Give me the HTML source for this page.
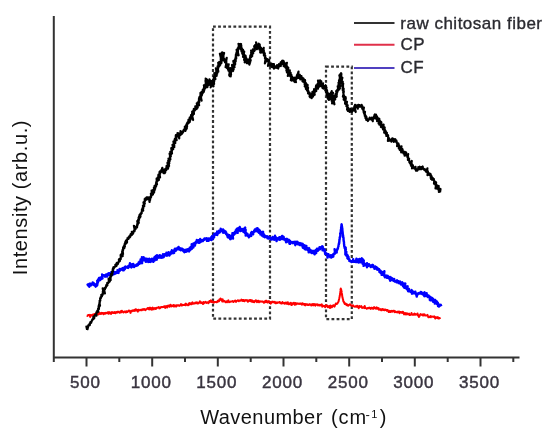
<!DOCTYPE html>
<html><head><meta charset="utf-8"><style>
html,body{margin:0;padding:0;background:#fff;}
body{width:550px;height:437px;overflow:hidden;position:relative;}
svg{position:absolute;left:0;top:0;}
</style></head><body>
<svg width="550" height="437" viewBox="0 0 550 437">
<rect width="550" height="437" fill="#fff"/>
<g stroke="#333" stroke-width="2.2" stroke-dasharray="2.8 2.3" fill="none">
<rect x="213" y="26.7" width="57" height="292"/>
<rect x="326" y="66.7" width="25.8" height="252.5"/>
</g>
<path d="M86.7 315.8L87.2 315.9L87.7 315.5L88.2 315.1L88.7 315.3L89.2 314.9L89.7 315.5L90.2 316.9L90.7 315.0L91.2 314.9L91.7 315.5L92.2 315.3L92.7 315.1L93.1 314.4L93.6 314.9L94.2 315.3L94.6 314.0L95.1 314.5L95.6 313.5L96.1 313.8L96.6 313.4L97.1 314.3L97.6 313.6L98.1 314.5L98.6 314.3L99.1 314.1L99.5 312.6L100.1 313.7L100.6 313.9L101.1 314.0L101.5 312.9L102.0 313.5L102.5 313.1L103.0 313.1L103.6 314.2L104.0 313.0L104.5 313.4L105.1 313.8L105.5 312.9L106.0 313.1L106.5 313.2L107.0 313.1L107.5 312.3L108.0 313.1L108.5 313.8L109.0 312.0L109.5 313.4L110.0 313.0L110.5 312.5L111.0 314.0L111.5 313.2L112.0 312.0L112.5 312.7L113.0 313.0L113.5 312.5L114.0 313.0L114.5 312.1L115.0 312.9L115.5 313.3L116.0 312.0L116.5 312.5L117.0 312.1L117.5 312.4L118.0 311.6L118.5 311.9L119.0 312.1L119.5 312.7L120.0 312.8L120.5 311.3L121.0 311.5L121.5 312.3L121.9 310.7L122.5 311.6L123.0 311.7L123.5 312.5L124.0 312.1L124.4 311.4L124.9 311.4L125.4 311.4L126.0 312.4L126.4 311.2L127.0 311.9L127.5 312.0L127.9 311.2L128.4 311.1L128.9 310.5L129.4 311.1L129.9 310.8L130.5 312.9L130.9 311.4L131.4 310.9L131.9 311.3L132.4 310.6L132.9 310.2L133.4 310.7L133.9 311.0L134.4 309.8L134.9 310.8L135.4 309.5L135.9 309.2L136.4 310.4L136.9 309.8L137.4 310.7L137.9 311.6L138.4 309.7L138.9 309.8L139.4 310.2L139.9 310.4L140.4 309.9L140.9 309.8L141.4 310.3L141.9 310.2L142.3 309.2L142.9 309.7L143.4 309.7L143.8 309.0L144.4 309.8L144.8 309.1L145.4 310.1L145.8 309.6L146.3 309.4L146.8 309.0L147.3 308.6L147.8 308.0L148.3 308.4L148.8 309.3L149.3 307.7L149.8 309.4L150.3 307.8L150.8 309.2L151.3 308.2L151.8 309.8L152.3 308.7L152.7 307.6L153.3 309.2L153.8 309.3L154.3 308.3L154.8 308.1L155.3 308.1L155.8 309.0L156.3 308.7L156.7 307.7L157.2 307.9L157.7 307.4L158.2 307.4L158.7 307.0L159.3 308.4L159.7 307.5L160.2 308.1L160.7 307.5L161.2 307.0L161.7 307.1L162.2 306.9L162.7 307.2L163.2 306.9L163.7 306.9L164.1 306.2L164.7 306.5L165.2 307.9L165.7 306.4L166.1 306.1L166.7 306.9L167.2 307.5L167.6 305.7L168.1 306.4L168.6 306.1L169.1 305.3L169.7 306.8L170.1 306.2L170.6 304.8L171.1 305.7L171.6 306.4L172.1 305.7L172.6 305.9L173.1 305.2L173.6 305.1L174.1 306.6L174.6 305.4L175.1 305.8L175.6 305.6L176.1 306.7L176.6 305.2L177.1 305.8L177.6 305.2L178.1 305.2L178.6 305.3L179.1 305.9L179.6 305.6L180.1 305.3L180.6 304.7L181.0 304.1L181.6 305.5L182.1 305.4L182.5 304.7L183.1 305.1L183.6 305.1L184.1 305.1L184.6 305.1L185.0 304.2L185.6 305.3L186.0 303.6L186.5 304.8L187.0 304.6L187.5 304.7L188.0 305.3L188.5 305.0L189.0 303.3L189.5 303.0L190.0 304.4L190.5 303.3L191.0 303.8L191.5 304.3L192.0 302.8L192.5 302.4L193.0 303.8L193.5 303.6L194.0 303.4L194.5 303.5L195.0 302.9L195.4 302.5L196.0 303.3L196.5 302.7L196.9 302.3L197.5 303.5L198.0 303.2L198.5 303.4L198.9 302.5L199.4 302.7L199.9 301.3L200.4 302.4L201.0 303.1L201.4 302.4L202.0 303.1L202.5 303.0L203.0 304.0L203.4 301.9L204.0 303.3L204.4 302.6L204.9 302.6L205.4 301.8L205.9 302.3L206.4 303.0L206.9 302.5L207.4 302.5L207.9 302.3L208.4 303.1L208.9 302.4L209.4 301.0L209.9 301.9L210.4 301.1L210.9 300.3L211.4 301.9L211.9 302.0L212.4 302.2L212.9 301.4L213.4 301.9L213.9 302.7L214.4 302.1L214.9 302.0L215.4 301.9L215.9 301.9L216.4 302.3L216.9 302.2L217.4 301.9L217.7 300.8L218.3 301.5L218.6 300.5L219.1 301.2L219.3 299.5L219.8 299.9L220.3 299.7L220.5 298.6L221.2 300.2L221.2 300.1L221.7 299.4L221.7 300.6L222.0 300.8L222.7 299.4L222.5 301.6L223.0 301.5L223.5 301.5L224.0 300.8L224.5 301.3L225.0 301.3L225.5 302.1L226.0 301.6L226.5 301.4L227.0 302.3L227.5 301.0L228.0 301.1L228.4 300.3L229.0 302.3L229.5 301.9L230.0 301.9L230.5 301.7L231.0 301.4L231.5 301.4L232.0 301.6L232.4 301.1L233.0 301.2L233.5 302.0L234.0 301.4L234.4 301.0L234.9 300.7L235.4 300.6L236.0 301.9L236.4 301.2L236.9 300.9L237.4 300.7L237.9 300.2L238.4 300.8L238.9 301.3L239.4 300.5L239.9 300.6L240.4 300.5L240.9 300.7L241.4 299.6L241.9 300.4L242.4 300.0L242.9 301.0L243.4 300.0L243.9 300.8L244.4 301.3L244.9 300.2L245.4 300.1L245.9 300.6L246.4 300.5L246.9 300.0L247.4 300.9L247.9 301.8L248.4 300.5L248.9 300.6L249.4 300.1L249.9 300.9L250.4 300.0L250.9 300.2L251.4 301.6L251.9 300.3L252.4 301.6L252.9 301.9L253.4 301.1L253.9 301.3L254.4 302.2L254.9 301.0L255.4 300.8L255.9 300.3L256.4 301.2L256.9 302.1L257.4 301.8L257.9 300.7L258.4 300.8L258.9 302.3L259.4 301.6L259.9 301.3L260.4 301.6L260.9 301.7L261.4 301.4L261.9 301.5L262.4 301.7L262.9 301.6L263.4 302.0L263.9 302.8L264.4 302.1L264.9 301.8L265.4 300.8L265.9 302.1L266.4 300.7L266.9 301.1L267.4 302.5L267.9 302.4L268.4 302.0L268.9 301.1L269.4 301.9L269.9 301.8L270.4 302.6L270.8 303.6L271.4 302.4L271.9 301.8L272.4 301.6L272.9 302.3L273.4 302.3L273.9 301.7L274.4 302.5L274.9 301.8L275.3 303.2L275.8 303.2L276.3 303.3L276.9 302.3L277.3 303.0L277.8 302.6L278.3 302.5L278.8 302.6L279.4 302.0L279.9 302.0L280.3 303.3L280.8 302.8L281.3 303.1L281.8 303.6L282.4 302.0L282.8 302.6L283.3 303.2L283.8 303.3L284.3 302.9L284.8 303.8L285.3 303.3L285.8 302.5L286.3 302.7L286.8 303.8L287.3 303.6L287.8 302.2L288.3 304.2L288.8 303.8L289.3 304.2L289.8 303.2L290.3 303.3L290.8 302.8L291.3 305.1L291.8 303.5L292.3 304.6L292.8 303.2L293.3 303.8L293.8 302.7L294.3 303.5L294.8 304.8L295.3 303.0L295.8 304.5L296.3 304.0L296.8 303.2L297.3 303.6L297.8 303.7L298.3 303.9L298.8 303.7L299.3 303.5L299.8 303.9L300.3 303.5L300.8 303.4L301.3 304.1L301.8 304.7L302.3 303.3L302.8 304.3L303.3 303.9L303.8 303.8L304.3 304.9L304.8 304.1L305.3 305.4L305.8 304.0L306.3 304.8L306.8 304.4L307.3 304.2L307.8 305.0L308.3 304.6L308.8 305.0L309.3 304.7L309.8 304.1L310.3 304.8L310.8 304.9L311.3 305.5L311.8 304.4L312.3 305.0L312.8 304.0L313.3 305.4L313.8 304.4L314.3 304.0L314.8 305.0L315.3 305.7L315.8 304.2L316.3 304.4L316.8 304.7L317.3 304.4L317.8 305.4L318.3 304.7L318.8 304.7L319.3 305.5L319.8 304.7L320.3 305.5L320.8 304.7L321.3 304.7L321.8 304.4L322.2 306.7L322.7 305.4L323.2 305.9L323.7 306.2L324.2 306.0L324.7 306.0L325.1 307.2L325.7 305.5L326.2 305.3L326.7 305.7L327.2 305.6L327.6 307.0L328.1 307.2L328.7 306.2L329.2 306.1L329.6 306.8L330.1 308.0L330.4 305.4L331.1 307.3L331.4 306.1L332.0 307.2L332.4 305.8L332.9 306.1L333.3 305.2L333.8 305.3L334.4 306.6L334.8 306.0L335.1 305.0L335.5 304.5L335.8 303.5L336.3 304.1L336.8 304.0L337.2 303.7L337.5 303.4L337.7 302.8L337.9 302.5L338.1 302.0L338.4 301.8L338.6 301.4L338.7 300.7L338.8 300.1L339.0 299.7L339.1 299.1L339.2 298.6L339.3 298.2L339.4 297.6L339.5 297.4L339.6 296.8L339.7 296.3L339.8 295.8L339.9 295.2L340.0 294.7L340.1 294.3L340.1 293.7L340.2 293.4L340.3 292.8L340.3 292.1L340.4 291.8L340.4 291.1L340.5 290.8L340.6 290.3L340.5 289.5L340.7 289.4L340.8 288.9L340.8 288.4L340.9 288.9L341.0 289.4L341.2 289.8L341.3 290.3L341.4 290.8L341.5 291.4L341.6 291.7L341.6 292.4L341.7 292.9L341.8 293.3L341.9 293.8L341.9 294.4L342.1 294.6L342.1 295.4L342.2 295.8L342.3 296.3L342.3 296.8L342.5 297.3L342.6 297.7L342.7 298.3L342.8 298.8L342.9 299.2L343.1 299.5L343.2 300.3L343.2 300.9L343.4 301.3L343.6 301.7L343.9 301.8L344.0 302.7L344.3 302.9L344.6 303.0L344.7 303.9L345.1 303.3L345.5 303.5L346.0 304.0L346.5 305.2L347.0 304.3L347.5 304.7L347.9 305.7L348.4 305.7L349.0 304.7L349.5 304.7L350.0 304.2L350.5 304.6L350.9 305.4L351.4 305.6L351.9 305.5L352.3 306.2L352.9 305.2L353.3 305.8L353.8 306.4L354.3 306.4L354.8 306.8L355.3 306.5L355.8 306.2L356.3 306.7L356.8 306.0L357.3 305.7L357.7 307.1L358.2 306.8L358.7 308.2L359.3 306.0L359.7 306.9L360.2 306.9L360.7 306.7L361.2 306.0L361.7 307.2L362.2 308.0L362.7 307.7L363.2 307.2L363.7 307.6L364.2 308.1L364.7 306.0L365.2 307.7L365.7 308.1L366.2 308.2L366.7 308.8L367.2 308.5L367.7 308.0L368.2 308.0L368.7 308.3L369.2 307.5L369.7 307.8L370.2 308.3L370.7 309.0L371.2 307.7L371.7 307.8L372.2 307.9L372.7 308.6L373.2 307.7L373.7 308.6L374.2 307.1L374.7 307.6L375.2 307.7L375.6 308.4L376.0 308.8L376.7 307.4L377.1 307.9L377.5 308.8L378.0 308.4L378.6 308.0L378.9 309.7L379.4 309.5L379.9 309.6L380.4 309.1L380.9 310.1L381.4 309.4L381.9 310.2L382.4 309.1L382.9 309.2L383.4 309.9L383.9 309.4L384.4 310.3L384.9 310.1L385.4 309.5L385.9 310.1L386.4 310.0L386.8 310.8L387.4 310.0L387.8 310.2L388.3 311.3L388.7 312.0L389.2 312.0L389.8 310.9L390.3 311.1L390.7 312.0L391.3 311.1L391.8 310.7L392.2 311.4L392.7 311.7L393.2 311.0L393.8 310.7L394.2 310.9L394.7 312.2L395.2 311.4L395.7 311.8L396.2 312.1L396.7 312.3L397.2 311.8L397.7 312.4L398.2 311.6L398.7 311.9L399.2 311.6L399.6 313.3L400.2 312.3L400.7 311.9L401.2 312.2L401.7 312.3L402.1 312.9L402.7 311.7L403.2 312.1L403.6 312.6L404.0 314.4L404.6 313.6L405.1 313.0L405.6 313.6L406.0 314.5L406.6 313.3L407.1 313.3L407.5 314.3L408.0 314.0L408.5 314.2L409.0 313.6L409.4 315.1L410.0 315.1L410.5 314.5L411.0 314.6L411.5 313.0L412.0 314.7L412.5 314.2L413.0 314.6L413.5 314.8L414.0 314.3L414.5 313.5L415.0 314.8L415.5 314.2L416.0 314.5L416.5 314.4L417.0 314.6L417.5 313.5L417.9 315.6L418.5 315.1L418.9 317.0L419.4 316.2L420.0 315.1L420.5 314.1L421.0 314.6L421.5 314.5L422.0 315.0L422.4 315.4L423.0 314.2L423.4 315.6L424.0 314.6L424.5 314.4L424.9 315.5L425.4 315.4L425.9 315.6L426.4 315.4L426.9 315.5L427.5 314.9L427.9 316.0L428.3 317.2L428.8 317.3L429.3 317.0L429.9 316.7L430.4 316.0L430.8 317.3L431.4 316.5L431.8 316.6L432.3 316.5L432.8 316.8L433.3 316.6L433.8 316.9L434.3 316.4L434.8 316.9L435.2 318.6L435.8 317.2L436.3 317.2L436.8 317.8L437.2 318.0L437.8 317.0L438.2 318.5L438.7 318.4L439.2 318.0L439.7 318.0L440.2 319.0" stroke="#ff0000" stroke-width="2.0" fill="none" stroke-linejoin="round"/>
<path d="M86.8 285.6L87.3 285.3L87.7 284.4L88.1 284.5L88.5 284.4L88.9 284.0L89.2 286.7L89.7 284.7L90.1 283.6L90.4 284.2L90.9 285.4L91.3 285.2L91.6 284.3L92.0 283.6L92.4 284.3L92.7 282.4L93.1 282.7L93.6 284.8L94.0 283.4L94.3 284.4L94.6 285.4L95.0 284.9L95.5 284.4L95.7 286.7L96.2 285.3L96.7 284.3L97.1 285.5L97.3 284.8L97.1 283.2L97.5 283.7L97.6 283.1L97.2 280.9L97.9 282.4L98.0 281.9L98.1 281.4L97.9 279.8L98.5 280.7L98.7 280.7L98.9 280.4L98.7 278.8L99.3 280.3L99.1 278.0L99.6 278.8L100.2 280.1L100.2 277.8L100.5 277.8L101.1 279.1L101.3 278.2L101.5 277.2L101.9 277.5L102.5 278.5L102.1 274.5L102.7 275.7L103.1 275.4L103.4 275.1L103.8 275.2L104.2 275.1L104.7 276.1L105.2 276.7L105.4 275.7L105.8 275.8L106.1 274.5L106.6 275.3L107.1 276.7L107.3 275.2L107.6 274.1L108.1 274.5L108.3 273.5L108.7 273.2L109.3 275.1L109.5 273.2L109.9 273.7L110.5 274.8L110.6 273.1L111.0 273.5L111.2 272.1L111.5 272.1L112.3 274.4L112.7 274.7L112.6 271.9L112.9 271.5L113.3 271.3L113.7 271.5L114.0 272.2L114.3 273.4L114.6 273.9L115.2 272.2L115.4 273.5L115.9 272.5L116.3 273.0L116.7 272.1L117.1 272.5L117.4 272.7L117.7 272.4L117.5 270.2L118.5 272.9L118.4 271.3L118.7 271.0L119.0 270.8L119.3 270.6L119.7 270.9L119.6 268.9L120.0 269.0L120.5 270.1L120.9 269.8L121.2 269.2L121.6 269.2L122.0 268.5L122.4 269.1L122.9 270.3L123.1 267.9L123.7 270.4L124.0 269.5L124.3 268.1L124.8 269.2L124.9 266.9L125.3 266.5L125.7 266.8L126.2 267.5L126.6 267.5L126.9 267.2L127.4 267.7L127.7 266.5L128.2 267.9L128.4 265.9L128.9 266.6L129.3 266.8L129.6 265.9L129.9 263.3L130.4 265.9L130.9 266.8L131.3 267.4L131.7 267.2L131.9 265.5L132.1 264.1L132.8 266.4L133.2 266.5L133.3 263.9L134.0 267.0L134.2 265.1L134.7 266.2L135.0 265.6L135.5 266.1L135.7 265.2L136.2 265.8L136.4 264.7L136.9 265.6L137.3 265.4L137.5 263.9L138.0 265.2L138.2 263.8L138.6 263.5L138.8 262.3L139.2 262.8L139.7 263.7L139.7 261.4L140.4 263.1L140.3 261.1L140.9 262.2L140.6 259.4L141.4 261.2L142.1 263.2L141.8 260.0L142.3 260.6L141.9 257.3L142.9 260.6L142.9 259.0L143.5 260.2L143.6 257.3L144.0 259.9L144.5 259.1L144.8 260.2L145.3 258.6L145.7 259.0L145.8 261.9L146.4 258.9L146.9 258.8L147.2 259.7L147.6 259.0L147.9 261.4L148.2 262.0L148.8 259.7L149.2 258.7L149.4 261.7L149.8 261.8L150.2 261.6L150.6 262.0L150.9 259.9L151.3 260.4L151.5 259.0L151.8 258.8L152.5 260.9L152.6 259.1L153.4 261.8L153.4 259.4L153.6 258.5L154.2 259.7L154.7 260.5L154.8 258.9L154.7 256.9L155.3 258.2L155.8 258.9L155.6 256.7L155.8 256.1L156.8 259.7L156.6 256.6L157.0 255.3L157.4 256.1L157.8 255.7L158.2 256.8L158.6 256.7L158.9 257.7L159.3 257.3L159.8 255.1L160.2 257.1L160.5 257.6L160.9 257.2L161.3 257.8L161.7 256.2L162.0 255.7L162.6 257.5L162.8 255.3L163.0 254.1L163.7 257.2L163.9 255.3L164.4 255.6L164.6 254.3L165.0 254.3L165.4 254.3L165.9 255.0L166.3 255.5L166.4 252.7L167.1 255.7L167.2 253.6L167.5 253.5L168.2 255.0L168.4 254.0L168.5 252.3L169.4 255.5L169.3 252.6L169.8 253.5L170.1 253.2L170.6 254.2L170.7 252.1L171.2 253.4L171.3 251.4L171.9 253.0L171.9 250.3L172.4 251.1L173.1 253.2L173.2 251.4L173.5 251.0L174.1 252.9L174.2 250.8L174.4 249.4L174.9 250.8L175.0 248.7L175.7 250.8L176.0 250.6L176.1 248.7L176.5 248.4L176.9 249.0L177.2 248.6L177.7 247.7L178.0 249.4L178.6 246.9L178.8 248.6L179.2 248.8L179.6 249.0L179.9 249.7L180.4 248.3L180.6 250.2L181.1 249.6L181.5 249.2L181.9 248.6L182.3 248.9L182.6 250.6L183.1 249.3L183.4 250.4L183.7 251.5L184.1 251.6L184.4 252.2L185.0 250.5L185.3 249.8L185.8 251.8L186.1 250.9L186.5 251.5L186.7 250.2L187.2 251.2L187.3 249.1L187.9 250.3L188.2 249.9L188.7 250.8L189.2 251.4L189.1 249.0L189.6 249.5L189.7 247.8L190.5 249.8L190.4 247.7L190.9 248.5L190.9 247.1L191.2 246.7L192.0 248.7L191.7 246.1L191.7 244.3L192.2 245.1L192.6 245.2L193.4 247.4L193.2 245.1L193.7 245.6L193.5 243.4L194.1 244.4L194.4 244.5L195.0 245.6L194.9 242.7L195.4 243.8L195.7 243.3L195.9 241.8L196.4 242.6L196.7 242.2L196.8 240.0L197.5 242.3L197.9 242.5L198.2 241.3L198.4 240.3L199.1 242.9L199.3 241.5L199.8 242.1L200.2 242.3L200.2 239.0L200.8 240.7L201.1 240.3L201.6 241.5L201.9 240.2L202.3 240.2L202.8 241.1L203.1 240.0L203.4 239.6L203.8 239.4L204.2 239.9L204.5 238.5L204.9 238.8L205.3 239.1L205.7 238.5L206.1 238.9L206.5 238.3L207.0 240.9L207.4 240.1L207.7 239.2L208.1 238.6L208.6 240.8L208.9 238.9L209.3 238.4L209.7 238.7L210.1 238.6L210.5 239.7L210.8 238.2L211.5 240.1L211.4 236.9L212.0 238.3L212.0 236.3L212.8 238.9L212.8 236.6L213.2 236.6L213.7 237.4L214.1 237.4L213.8 234.8L214.2 235.2L214.2 233.9L214.8 235.1L215.0 234.5L215.2 234.0L215.5 233.4L215.9 233.5L216.5 234.7L216.8 234.1L217.3 235.0L217.2 231.4L217.8 233.0L218.1 232.6L218.6 233.2L218.6 231.5L219.0 232.0L219.1 230.8L219.8 232.3L219.9 231.4L220.2 230.9L220.6 231.1L220.7 230.2L220.7 228.7L221.5 230.5L221.7 229.9L221.9 229.5L222.0 230.9L222.2 231.4L223.0 229.4L223.2 230.0L223.0 232.6L223.3 232.7L224.1 230.9L224.4 230.7L224.6 231.5L224.9 232.0L225.4 231.2L225.3 233.1L225.9 232.0L226.1 232.4L226.1 234.0L226.6 233.5L226.8 234.3L227.0 235.3L227.2 235.7L227.8 234.8L227.7 237.1L228.5 234.8L228.3 237.6L228.8 236.8L229.5 235.3L229.6 236.6L229.8 237.6L230.1 237.6L230.2 239.2L230.8 239.0L231.0 236.9L231.3 237.1L231.3 235.6L231.9 236.8L232.2 236.4L233.0 238.6L232.7 235.7L232.4 233.2L233.0 234.4L233.5 234.8L233.4 233.2L234.1 234.6L234.1 233.4L234.6 233.8L234.7 233.0L234.8 232.0L235.4 233.4L235.4 231.7L235.7 231.5L235.8 230.3L236.2 230.6L236.8 231.8L236.6 229.2L237.7 232.8L237.1 228.7L237.7 229.6L238.1 229.9L238.1 228.3L238.9 230.4L239.1 229.9L239.2 228.9L239.7 227.0L240.0 227.9L240.1 230.1L240.4 231.0L241.0 229.7L241.2 230.8L241.8 229.1L242.1 229.7L242.5 230.0L242.8 230.6L243.4 228.8L243.4 231.4L243.5 232.1L244.7 228.5L245.2 227.6L244.5 232.0L245.0 231.3L245.7 229.9L245.2 233.4L245.6 233.1L246.0 232.7L245.7 235.6L246.4 234.0L246.9 233.4L246.9 234.5L247.4 233.7L247.6 234.3L247.6 235.7L248.0 235.7L248.3 235.4L248.9 237.3L249.1 236.3L249.4 236.0L249.7 235.5L250.0 235.2L250.5 236.0L250.6 234.3L251.2 235.9L251.1 232.9L251.5 233.4L251.7 232.0L252.2 232.9L252.7 233.5L253.2 234.2L253.1 231.9L253.6 232.3L253.8 231.7L254.1 231.1L254.3 230.4L254.9 231.4L254.9 229.4L255.5 231.0L255.8 230.6L256.0 229.7L256.3 229.1L256.5 228.5L257.3 231.5L257.5 228.3L257.4 231.4L257.9 230.7L258.4 230.0L258.9 229.5L258.8 231.9L258.9 232.8L259.8 230.4L259.9 231.3L260.0 232.9L260.4 232.5L260.4 234.4L261.2 232.1L261.3 233.4L262.0 231.9L261.7 235.5L262.5 232.9L263.1 231.7L263.0 234.0L263.3 234.2L263.3 236.5L264.0 234.5L264.3 235.1L264.5 236.0L264.6 237.2L265.2 235.8L265.3 237.1L265.7 236.9L266.2 236.3L266.5 236.9L266.9 237.0L267.3 236.2L267.5 238.4L268.1 236.7L268.3 238.6L268.7 238.5L269.1 237.6L269.6 237.1L269.9 237.7L270.2 238.6L270.6 239.0L271.0 238.6L271.3 239.5L271.8 238.0L272.2 238.8L272.6 237.0L273.0 239.4L273.4 238.8L273.8 238.2L274.2 239.8L274.6 239.3L275.0 235.8L275.4 238.6L275.8 237.1L276.2 239.7L276.6 241.1L277.0 238.1L277.4 238.7L277.8 238.3L278.2 238.8L278.6 239.0L279.0 239.6L279.3 237.3L279.8 239.8L280.1 237.2L280.6 238.3L281.0 239.2L281.4 238.6L281.7 236.9L282.0 236.0L282.5 236.0L282.9 237.8L283.0 239.2L283.7 237.0L283.7 239.0L284.0 239.4L284.4 239.6L284.7 239.7L285.2 239.0L285.3 240.2L285.6 240.9L286.0 240.8L286.1 242.3L287.0 238.8L286.9 242.1L287.5 240.8L287.8 240.9L288.3 240.4L288.8 239.7L288.9 241.4L289.3 241.2L289.4 243.7L290.2 240.8L290.1 243.9L290.6 242.9L291.1 242.6L291.5 242.3L291.8 242.4L292.2 242.1L292.5 242.8L292.9 243.3L293.3 243.1L293.7 241.9L294.1 243.0L294.5 242.4L295.0 241.7L295.3 245.2L295.7 244.0L296.1 243.1L296.5 241.8L296.9 242.0L297.4 241.7L297.7 244.2L298.1 242.7L298.5 243.5L298.9 242.9L299.3 243.6L299.5 245.0L300.1 243.1L300.4 243.7L300.8 243.4L300.9 245.3L301.6 243.6L301.9 243.7L302.3 243.7L302.7 243.9L302.7 245.9L302.8 247.7L303.6 244.9L303.7 247.0L304.1 246.5L304.7 245.4L304.4 248.7L305.1 246.8L305.5 246.6L305.3 249.5L306.4 245.9L306.2 248.5L306.5 248.7L307.0 248.0L307.2 249.0L307.3 250.0L307.8 249.5L308.0 250.1L308.3 250.6L309.1 248.1L308.7 252.4L309.1 252.2L309.6 251.8L309.9 252.1L310.6 249.9L310.7 251.4L311.2 250.9L311.5 251.3L311.6 253.1L312.2 251.5L312.5 252.4L313.1 250.8L313.2 252.8L313.5 253.2L313.7 252.3L313.9 252.0L314.7 254.3L314.4 251.0L314.7 250.8L315.0 250.8L315.7 252.5L316.2 253.1L316.1 251.1L316.2 249.8L316.5 249.8L317.1 251.0L317.0 248.7L317.8 250.8L318.0 250.5L318.0 248.8L318.4 249.2L318.8 249.2L319.2 249.6L319.5 247.3L320.0 249.4L320.3 247.8L320.7 247.3L321.1 248.1L321.5 247.7L321.8 246.9L322.2 246.2L322.8 246.8L322.5 249.5L322.5 250.3L323.1 249.4L323.1 250.3L323.7 248.9L323.8 249.7L323.9 250.4L324.4 249.4L324.6 249.9L324.5 251.3L324.8 251.3L325.1 250.9L324.9 252.7L325.3 252.4L325.1 254.0L325.6 253.3L326.0 253.3L326.2 254.0L326.5 254.0L326.9 253.8L327.1 254.3L327.2 255.8L327.5 256.0L327.5 257.6L328.5 254.2L328.5 255.8L328.8 256.0L329.2 255.4L329.4 256.3L329.7 256.1L330.2 257.3L330.6 257.3L330.9 255.2L331.4 257.6L331.8 257.1L332.1 255.5L332.6 256.8L332.7 255.0L333.3 256.6L333.3 254.9L333.4 254.0L333.8 254.2L334.0 253.5L334.4 254.1L334.7 253.8L334.9 253.4L335.0 252.5L334.6 249.1L335.7 252.5L335.5 250.2L336.3 252.1L336.7 252.6L336.7 251.4L336.7 250.4L337.0 250.3L337.2 249.9L337.2 249.2L337.5 249.3L337.6 248.8L337.8 248.8L337.9 248.2L338.0 248.0L338.0 247.4L338.1 247.1L338.2 246.6L338.4 246.4L338.5 246.0L338.5 245.5L338.6 245.0L338.7 244.6L338.9 244.6L338.8 243.9L338.9 243.5L339.1 243.4L339.2 243.3L339.1 242.5L339.2 241.9L339.4 242.0L339.3 241.2L339.4 240.9L339.4 240.3L339.4 239.7L339.5 239.3L339.7 239.3L339.7 238.9L339.8 238.4L339.7 237.4L339.8 237.3L340.0 237.2L340.0 236.5L340.2 236.6L340.3 236.3L340.4 236.2L340.3 235.4L340.3 234.7L340.3 234.3L340.2 233.4L340.5 233.5L340.5 233.2L340.6 233.1L340.7 232.6L340.7 232.2L340.8 231.7L340.8 231.4L340.9 231.2L340.8 230.3L340.9 230.0L340.9 229.4L341.1 229.6L341.2 229.2L341.2 228.6L341.1 227.9L341.2 227.7L341.3 227.3L341.3 226.9L341.3 226.5L341.4 226.2L341.4 225.6L341.5 225.5L341.5 225.0L341.5 224.5L341.6 224.3L341.7 224.6L341.7 225.2L341.8 225.4L341.8 225.9L341.9 226.2L342.0 226.4L341.9 227.2L342.1 227.2L342.0 228.0L342.1 228.3L342.3 228.3L342.3 228.8L342.3 229.3L342.4 229.7L342.4 229.9L342.4 230.8L342.5 231.0L342.5 231.5L342.6 231.7L342.6 232.3L342.7 232.5L342.7 233.0L342.7 233.5L342.8 233.8L342.9 234.1L342.9 234.4L342.9 235.0L343.0 235.5L343.1 235.7L343.2 236.0L343.1 236.7L343.1 237.5L343.4 237.1L343.3 237.8L343.4 238.2L343.6 238.0L343.5 239.0L343.6 239.2L343.5 240.0L343.6 240.1L343.7 240.4L343.7 240.9L343.8 241.4L343.9 241.6L343.9 242.1L344.0 242.3L344.0 242.9L344.0 243.5L344.0 244.1L344.1 244.3L344.2 244.6L344.2 245.1L344.2 245.5L344.2 246.0L344.3 246.3L344.4 246.5L344.5 246.9L344.6 247.3L344.6 247.7L344.7 248.1L344.9 248.3L345.1 248.4L345.2 248.6L345.7 247.6L345.2 250.1L345.3 250.4L345.9 249.1L345.3 251.9L345.4 252.4L345.7 252.0L345.3 254.0L345.4 254.6L346.4 251.9L345.8 254.5L346.1 254.3L346.2 254.7L346.2 255.6L346.8 254.3L346.9 255.0L347.1 254.9L347.2 255.4L347.2 256.4L347.7 255.4L347.7 256.2L347.4 258.2L347.7 257.9L347.8 258.7L348.5 256.8L348.5 258.2L348.8 258.7L348.9 259.6L349.4 259.2L349.3 261.0L349.8 260.3L350.1 260.7L350.4 260.8L350.8 261.5L351.2 261.3L351.6 261.9L352.0 261.3L352.4 261.0L352.8 261.6L353.2 259.1L353.6 261.8L354.0 261.7L354.4 261.2L354.8 261.7L355.2 260.9L355.7 262.0L356.0 260.7L356.4 258.6L356.9 262.0L357.2 260.7L357.6 259.4L358.0 260.3L358.4 259.6L358.8 262.6L359.2 261.0L359.6 258.9L360.0 261.0L360.4 260.1L360.8 262.4L361.2 259.4L361.8 258.3L361.9 260.7L362.3 260.6L362.5 260.9L363.2 259.5L362.8 262.4L362.7 263.9L363.8 260.7L363.3 264.1L364.0 262.7L363.5 265.9L364.2 264.3L364.6 264.0L364.9 265.4L365.3 265.0L365.8 264.0L366.0 265.4L366.5 264.4L367.0 263.2L367.0 267.2L367.6 265.0L368.0 264.8L368.3 265.9L368.9 264.2L369.2 264.5L369.5 265.4L369.9 265.4L370.3 266.0L370.7 267.1L371.1 265.5L371.5 266.5L371.9 266.6L372.3 264.9L372.7 266.2L373.1 265.1L373.3 267.2L373.7 266.8L374.1 266.6L374.4 267.0L374.5 268.9L375.3 266.4L375.4 268.1L375.9 267.5L376.3 267.0L376.4 268.9L376.8 268.9L377.3 267.8L377.3 269.8L377.9 268.6L378.2 268.8L378.4 269.5L378.9 268.9L379.2 269.5L379.4 270.0L379.4 271.9L379.7 272.2L380.4 270.6L380.3 272.8L381.0 271.4L381.2 272.0L381.4 272.8L381.8 272.5L381.6 274.9L382.3 273.0L382.9 271.9L382.7 274.7L383.3 273.2L383.6 273.6L384.4 271.2L383.9 275.5L384.2 275.6L384.5 275.9L384.7 276.3L384.9 277.3L385.6 275.8L385.7 277.0L386.3 275.5L386.6 276.2L386.7 277.8L387.2 277.3L387.8 275.8L387.8 277.8L388.3 277.4L388.7 277.0L388.8 278.5L389.3 277.9L389.8 276.9L390.0 277.6L390.1 280.7L390.8 277.5L391.0 279.4L391.3 279.9L391.7 280.0L392.3 278.3L392.6 279.3L392.9 279.9L393.2 280.7L393.7 279.4L394.2 279.0L394.4 280.2L394.7 281.5L395.1 281.0L395.4 281.4L395.8 281.4L396.1 281.9L396.5 282.2L397.1 280.3L397.3 281.8L397.7 281.7L398.1 281.0L398.3 282.5L398.6 283.1L399.1 282.2L399.4 283.2L399.9 281.5L400.2 283.0L400.5 283.6L400.9 283.6L401.2 284.5L401.8 282.4L402.2 282.2L402.4 284.1L402.8 284.4L403.0 286.2L403.5 284.7L404.0 283.5L403.9 287.5L404.8 283.8L405.3 283.4L404.6 287.9L405.4 285.9L405.5 286.6L405.8 286.8L405.8 288.3L406.4 287.1L406.5 288.3L407.2 286.4L407.6 286.3L407.2 289.4L407.4 289.8L407.8 289.5L408.2 289.2L408.1 291.2L409.0 288.9L408.7 291.4L409.2 290.8L409.6 290.8L410.0 290.9L410.3 291.7L410.7 291.3L411.0 291.8L411.7 290.0L411.8 291.9L411.9 293.7L412.6 291.2L412.9 291.8L413.2 293.0L413.5 293.2L414.1 291.9L414.4 292.3L414.7 293.2L415.3 291.7L415.5 292.9L415.9 293.2L416.1 294.9L416.6 294.2L416.7 296.6L417.3 294.4L417.7 294.5L418.2 293.3L418.6 293.3L419.0 293.0L419.3 293.5L419.7 292.9L420.1 293.2L420.5 293.6L420.8 292.0L421.2 292.3L421.6 292.3L422.1 294.0L422.5 293.6L422.9 294.5L423.3 294.4L423.7 293.0L423.9 294.2L424.6 292.3L424.3 296.2L424.8 295.4L425.1 296.1L425.9 293.5L425.9 295.2L426.6 293.2L426.8 294.5L426.9 296.3L427.3 295.8L427.7 295.5L427.8 297.1L428.5 295.4L428.6 296.9L429.1 296.4L429.4 296.3L429.5 297.9L430.1 296.7L429.8 299.8L430.6 297.6L430.4 300.4L431.3 297.6L431.3 299.5L432.0 298.0L432.3 298.1L432.3 299.9L432.5 300.6L433.2 298.9L433.0 301.7L433.7 299.9L433.9 301.1L434.1 301.6L434.4 302.1L435.2 299.9L434.8 303.6L435.3 302.8L435.8 302.0L436.3 301.7L436.7 301.3L437.0 301.9L436.9 304.0L437.4 303.4L437.8 302.8L438.0 303.7L438.0 306.0L438.6 304.4L439.0 304.4L438.9 306.6L439.4 305.9L439.8 305.8L440.2 305.4L440.7 304.7L441.0 305.3L441.2 306.2" stroke="#0000ff" stroke-width="2.4" fill="none" stroke-linejoin="round"/>
<path d="M87.1 329.7L86.4 326.6L87.3 329.2L87.5 329.2L87.6 328.7L87.7 328.3L87.7 327.8L87.9 327.8L88.0 327.2L88.1 326.8L88.2 326.5L88.2 325.7L88.4 325.1L88.8 325.5L89.0 325.2L89.2 324.5L89.4 324.1L89.9 325.0L89.8 323.3L90.1 323.2L90.4 323.1L90.4 322.1L90.8 322.4L91.2 322.8L91.3 322.1L91.5 321.6L91.7 321.2L91.8 320.7L92.1 320.7L92.2 319.9L92.4 319.4L92.7 319.3L93.0 319.4L93.1 318.7L93.4 318.6L93.3 316.9L93.9 318.1L94.2 318.4L94.3 317.5L94.3 316.4L94.5 315.8L94.8 316.0L94.9 315.0L95.3 315.5L95.3 314.6L95.7 315.0L96.0 314.8L96.5 315.6L96.3 313.6L96.4 312.8L96.5 312.1L96.8 312.1L97.1 312.0L97.4 312.3L97.3 310.6L97.8 311.6L98.2 311.8L98.1 310.7L98.2 310.3L98.2 309.6L98.1 308.6L98.5 309.1L98.5 308.6L98.7 308.4L99.0 309.0L98.6 306.7L98.9 307.1L99.1 307.3L98.8 305.4L98.9 305.1L99.1 305.1L99.1 304.5L99.4 304.9L99.3 303.9L100.0 305.8L99.7 304.1L99.6 303.3L99.5 302.3L99.7 302.5L99.8 302.2L99.6 300.8L99.9 301.1L100.0 300.9L100.0 300.3L100.3 300.6L100.3 300.0L100.1 298.5L100.4 298.7L100.4 297.8L100.8 298.2L100.7 297.0L101.1 297.6L101.2 297.0L101.4 296.9L101.4 295.9L101.3 294.8L102.0 296.3L101.8 294.8L102.2 295.3L102.2 294.4L102.4 294.2L102.8 294.5L102.7 293.3L103.0 293.5L102.8 291.5L103.3 292.5L103.3 291.5L102.7 288.3L103.6 290.9L103.9 290.7L104.9 293.5L103.9 288.7L104.4 289.5L104.5 288.7L104.9 289.4L104.9 288.2L105.2 288.3L105.3 287.5L105.7 287.8L105.9 287.6L105.9 286.5L106.2 286.4L106.2 285.2L106.7 285.9L107.0 285.8L107.0 284.7L107.4 285.3L107.2 283.1L107.4 282.9L107.7 282.8L108.1 283.0L108.3 283.0L108.4 282.5L108.6 282.2L108.8 282.3L108.8 281.2L108.8 280.3L108.6 278.8L109.6 281.6L109.8 281.5L109.5 279.5L109.9 280.0L109.9 279.1L109.8 277.9L110.7 280.1L110.4 278.2L110.6 278.1L110.4 276.4L110.8 277.0L110.8 276.4L111.1 276.5L111.3 276.3L111.1 274.9L111.1 273.8L111.6 274.6L111.9 275.1L111.9 274.0L111.9 273.3L112.4 274.3L111.9 271.8L112.4 272.6L112.3 271.3L112.5 271.3L112.7 271.0L113.0 271.5L112.7 269.6L112.9 269.4L112.9 268.4L113.4 269.3L113.3 268.3L113.6 268.5L113.5 267.2L113.7 267.3L114.1 267.8L114.2 266.8L114.7 267.0L115.0 266.7L115.2 265.9L115.3 264.9L115.9 266.3L116.1 265.5L116.6 265.8L116.4 263.5L116.7 263.4L116.8 262.8L117.2 263.3L117.8 264.2L117.9 263.5L118.0 262.8L118.2 262.6L118.6 262.6L118.6 261.6L118.9 261.7L119.1 261.2L118.9 259.3L119.4 260.2L119.9 261.0L119.8 259.5L120.0 259.3L120.1 258.6L120.3 258.3L120.8 259.1L120.7 257.8L120.8 256.9L120.6 255.1L121.2 256.5L121.1 255.2L121.3 254.9L122.0 256.4L122.1 255.9L121.6 253.7L122.3 255.2L122.7 256.1L122.1 253.3L122.5 254.0L122.1 251.9L122.2 251.8L123.1 253.9L122.4 251.1L122.9 252.1L122.5 250.2L122.6 249.9L122.7 249.7L123.1 250.1L123.0 249.3L123.3 249.7L123.1 248.3L123.1 247.5L123.4 247.6L123.7 247.7L123.6 246.6L124.0 247.1L124.5 247.8L124.2 245.7L124.4 245.8L124.9 246.4L124.6 244.6L124.7 244.1L124.8 243.5L125.3 244.2L125.5 243.9L125.2 242.1L125.7 242.9L126.1 243.4L126.2 242.7L125.9 240.7L126.3 241.4L127.0 242.6L127.0 241.3L127.0 240.2L127.2 239.6L127.5 239.4L127.5 238.1L128.0 239.1L128.1 238.4L128.6 238.8L128.5 237.4L128.9 237.5L129.1 237.0L129.2 236.4L129.8 237.4L129.9 236.2L130.3 236.6L130.3 235.1L130.7 235.7L130.7 234.1L131.2 234.7L131.4 234.4L131.9 234.9L132.0 234.3L131.8 231.8L132.7 234.1L132.8 233.3L133.0 233.2L133.3 233.0L133.3 232.1L133.4 231.5L133.7 231.7L133.8 230.7L134.1 231.0L134.5 231.2L134.6 230.7L134.6 229.4L133.9 225.8L135.0 228.9L135.2 228.5L135.6 229.1L135.5 227.6L135.8 227.4L136.1 227.8L136.1 226.5L136.4 226.4L136.9 227.5L137.1 227.0L137.1 225.9L137.2 225.3L137.2 224.0L137.7 224.8L137.8 224.1L137.3 221.2L138.0 222.9L138.2 223.0L138.3 222.4L138.5 222.4L138.8 222.9L138.6 221.7L138.2 219.7L138.5 219.8L138.5 219.4L138.7 219.2L139.1 219.9L138.6 217.8L138.9 218.2L139.2 218.5L139.1 217.3L139.0 216.3L139.2 216.0L139.4 216.0L140.1 217.5L139.6 214.9L140.4 216.6L140.5 216.3L140.3 214.7L140.5 214.5L140.5 213.6L140.8 213.7L141.1 213.9L141.1 213.0L141.5 213.5L141.7 213.3L141.6 212.2L141.8 211.8L141.8 211.1L142.1 211.1L141.9 209.5L142.4 210.4L142.5 209.8L142.4 208.6L143.2 210.7L142.7 207.8L142.8 207.5L143.3 208.1L142.9 205.8L143.3 206.4L143.3 205.4L143.6 205.5L143.9 205.8L144.0 205.8L144.3 206.1L144.2 205.4L143.5 202.4L144.3 204.5L144.1 203.2L144.5 204.1L144.1 202.4L144.1 201.9L144.8 203.5L144.6 202.2L144.5 201.4L144.7 201.4L144.9 201.2L144.7 199.0L145.1 199.7L145.2 198.5L145.7 199.3L145.7 198.2L146.4 199.7L146.4 198.6L146.6 197.3L147.0 198.2L147.5 197.3L147.7 198.6L148.0 199.2L148.4 199.1L149.0 197.4L149.2 198.9L149.5 202.0L149.8 199.5L150.2 199.8L149.7 197.4L150.3 198.6L150.2 197.2L150.6 197.6L150.8 197.4L151.1 197.3L150.9 195.8L151.3 196.1L150.9 193.7L151.2 194.0L151.9 195.3L151.9 194.4L151.7 192.7L152.0 193.0L151.6 190.7L152.9 194.4L152.9 193.5L153.0 192.9L152.5 190.3L153.0 191.4L153.3 191.5L153.4 191.1L154.1 192.6L153.6 189.8L154.2 191.2L154.3 190.6L154.0 188.8L153.9 187.6L154.8 190.0L154.3 187.3L154.9 188.4L155.2 188.7L154.6 185.8L155.1 186.5L155.1 185.6L155.4 186.0L155.5 185.4L156.1 186.5L155.9 184.9L155.9 184.0L156.3 184.7L156.1 183.0L156.2 182.5L157.0 184.5L156.4 181.4L156.6 181.3L156.9 181.4L156.7 180.0L156.6 178.7L157.5 181.2L157.2 179.2L157.4 179.0L157.6 178.8L157.6 177.8L157.7 177.4L158.2 178.2L158.9 179.9L158.6 177.9L158.7 177.6L158.3 175.1L158.8 176.1L158.6 174.7L159.3 176.1L159.2 174.8L160.1 177.4L159.5 174.2L159.6 173.4L159.5 172.1L160.2 173.7L159.8 171.5L160.0 171.3L160.4 171.8L160.5 171.0L160.9 171.6L161.2 171.9L161.2 170.8L161.3 170.4L161.4 169.9L161.7 170.3L162.3 167.8L162.0 170.4L162.5 169.5L162.8 169.5L162.8 171.0L163.1 171.0L163.2 172.2L163.5 173.0L163.4 169.5L164.5 173.2L164.8 173.1L164.9 171.8L165.3 172.1L165.4 170.6L165.3 168.8L165.6 168.8L166.2 170.1L166.4 170.0L166.2 168.1L166.5 168.1L166.8 168.3L166.5 166.0L167.0 167.0L167.7 168.5L168.0 168.7L167.6 166.1L168.3 167.7L167.8 165.0L167.5 163.1L167.5 162.6L168.5 165.3L168.3 163.6L169.1 165.9L168.7 163.5L168.7 163.0L168.2 160.7L169.3 163.5L168.9 161.3L169.0 161.1L168.5 158.7L169.5 161.4L169.6 161.1L169.3 159.1L169.6 159.4L169.7 159.3L170.0 159.5L169.9 158.3L170.4 159.5L170.0 157.1L169.9 156.4L170.1 156.1L169.6 153.7L170.2 155.0L170.8 156.4L170.7 155.3L170.5 153.8L170.9 154.6L170.3 151.9L170.9 153.2L171.3 154.0L171.4 153.4L171.1 151.6L171.7 152.9L172.0 153.5L171.5 150.7L171.9 151.5L171.3 148.8L171.3 148.0L172.1 150.2L172.1 149.3L172.3 149.1L172.2 147.9L172.4 147.8L172.8 148.6L173.2 149.1L172.8 146.7L172.5 144.9L173.5 147.5L173.4 146.4L173.5 146.1L173.5 145.3L174.3 147.1L173.7 144.4L174.3 145.7L173.4 141.6L173.9 142.6L174.0 142.1L174.3 142.4L174.6 142.4L174.4 140.9L175.3 143.1L174.6 139.8L174.9 140.1L175.2 140.4L174.9 138.5L175.6 140.0L175.8 139.7L175.6 138.3L176.4 140.3L176.7 140.2L175.7 136.1L176.0 136.1L175.9 135.0L176.4 135.7L176.6 135.7L176.9 135.3L177.4 136.5L177.5 133.0L178.0 134.2L178.3 133.3L179.2 138.4L179.1 134.4L179.4 134.2L179.6 133.3L180.3 135.1L180.3 133.4L180.7 133.8L180.5 131.1L181.5 134.3L181.6 133.2L181.9 133.0L182.3 133.5L182.3 131.7L182.6 131.4L183.1 132.1L183.3 131.5L183.4 130.5L183.7 130.5L183.8 129.6L184.4 130.6L184.7 130.5L184.7 129.2L185.4 130.9L184.8 126.9L185.4 128.0L186.1 129.8L185.8 127.1L185.8 125.5L186.8 128.5L186.7 127.2L186.4 124.9L187.1 126.7L186.7 124.4L186.8 123.7L187.3 124.6L187.4 123.9L187.3 122.8L187.7 123.3L187.7 122.2L188.2 123.0L188.3 122.5L188.7 123.0L188.5 121.3L188.4 120.0L188.6 119.6L189.1 120.5L189.8 122.1L189.8 121.0L189.7 119.8L190.1 120.4L189.7 117.6L190.5 119.7L190.3 117.8L190.8 118.7L190.9 118.2L190.8 116.8L191.2 117.2L191.0 115.2L191.4 116.0L192.0 116.9L193.1 120.0L192.2 115.8L192.2 114.8L192.1 113.1L192.9 115.1L192.2 111.7L192.7 112.3L193.2 113.3L192.9 111.1L193.9 113.9L193.9 113.0L193.6 110.8L193.8 110.4L193.7 109.2L193.9 108.8L194.7 110.5L194.9 110.4L195.0 109.7L195.2 109.3L195.2 108.0L195.7 108.7L195.3 106.3L196.0 107.6L196.6 109.0L196.8 108.5L196.4 106.0L197.1 107.4L197.4 107.5L197.7 107.6L196.8 103.4L197.3 104.3L197.6 104.7L198.1 105.4L197.6 102.7L198.2 104.0L198.1 102.6L199.1 105.3L198.6 102.7L198.6 101.7L198.7 101.0L199.3 102.3L199.3 101.5L198.9 99.1L199.1 98.9L199.1 98.0L199.4 98.3L199.4 97.3L199.5 96.9L199.9 97.3L199.9 96.5L200.6 98.0L201.6 100.6L200.6 96.3L200.4 94.9L201.2 96.8L200.4 93.0L200.6 92.8L201.6 95.6L201.7 95.1L202.0 95.1L201.8 93.4L201.7 91.8L202.1 92.3L202.7 93.3L202.5 91.3L202.7 91.1L202.7 89.9L203.0 89.8L203.8 91.9L203.9 91.1L203.6 88.8L203.7 88.5L204.0 88.8L204.5 89.7L204.0 87.3L204.5 88.1L203.9 85.3L204.3 86.0L205.0 87.7L205.3 87.9L204.7 85.0L205.0 85.1L205.6 86.6L206.1 87.4L205.4 84.2L205.9 85.1L205.8 84.3L206.2 85.0L206.5 85.6L205.7 82.2L205.5 80.8L205.8 81.1L205.6 80.0L205.8 80.1L206.6 82.1L205.7 78.5L206.7 81.4L206.5 80.1L206.9 80.9L206.5 79.6L206.5 79.9L206.4 81.2L207.1 79.6L207.1 80.2L207.3 80.6L206.6 83.6L207.1 82.8L207.9 80.8L207.8 82.0L208.1 81.9L208.0 83.1L208.0 83.8L207.4 87.1L208.0 81.8L208.9 85.0L208.9 83.9L208.7 82.1L209.1 82.5L209.2 81.7L209.6 82.0L210.1 82.9L209.5 79.4L210.0 82.8L210.6 81.0L210.3 83.6L210.8 82.6L210.8 83.9L211.3 83.4L210.7 87.3L211.9 83.4L212.1 83.9L212.3 84.8L212.8 84.9L213.5 86.2L212.1 80.8L212.9 82.6L213.4 83.8L212.7 80.5L213.1 81.4L214.1 83.9L213.9 82.7L213.2 79.4L214.1 81.9L214.2 81.2L214.1 80.3L214.1 79.5L214.1 78.9L213.8 77.1L214.1 77.2L214.7 78.4L214.7 77.3L215.4 79.1L214.8 76.0L214.3 73.0L215.2 75.3L215.6 75.7L215.8 75.4L215.9 74.7L215.7 73.2L216.7 75.8L216.1 72.7L216.7 74.0L216.4 72.4L216.2 70.8L217.3 73.7L215.9 68.4L216.6 70.1L217.2 71.4L217.1 70.0L217.6 71.0L217.4 69.5L217.3 68.7L218.4 71.6L217.7 68.2L217.8 67.9L217.6 66.4L218.0 67.3L218.4 67.8L218.5 67.3L218.4 66.2L218.3 64.9L218.9 66.3L218.2 62.9L218.8 64.3L219.0 64.0L219.7 65.7L219.4 63.8L219.2 62.3L219.3 61.8L220.4 64.8L220.1 63.0L220.4 63.2L220.4 62.3L220.6 62.2L220.7 61.6L221.0 61.7L221.5 62.9L220.7 59.1L221.0 59.4L221.0 58.6L219.9 53.7L220.8 56.1L221.8 58.7L221.8 58.0L221.5 56.0L222.3 57.9L222.4 57.7L221.8 55.1L222.6 57.1L222.8 57.1L222.3 55.0L221.8 52.8L222.8 55.6L222.3 53.0L222.2 52.4L222.4 53.1L222.7 52.6L222.2 55.1L222.4 55.1L222.3 56.1L222.6 55.7L223.2 54.3L223.0 55.5L222.7 57.2L224.1 53.0L222.1 60.7L223.4 56.9L223.6 56.9L223.0 59.5L223.3 59.4L223.8 58.7L224.1 58.8L224.1 60.0L224.2 60.8L224.4 61.0L225.0 60.0L225.0 61.3L225.0 62.2L225.2 62.4L226.7 57.8L226.2 61.0L226.3 61.5L226.3 62.6L226.3 63.5L225.6 67.1L226.5 64.7L227.0 64.1L227.1 64.7L226.6 67.3L227.6 64.6L227.4 66.2L227.1 68.2L227.4 68.0L228.7 64.3L227.9 67.8L228.4 67.2L228.4 67.9L228.1 69.7L228.4 69.4L228.8 68.8L228.5 70.7L228.7 70.5L229.0 70.5L229.0 71.1L229.2 70.9L229.4 71.1L229.5 71.3L229.5 72.3L229.9 71.5L230.1 71.5L229.2 75.1L229.9 73.5L229.9 74.2L229.7 75.6L229.7 76.2L230.9 72.8L230.2 75.9L230.0 74.6L230.7 76.4L230.2 73.9L230.9 75.7L229.9 71.6L230.3 72.3L231.1 74.5L230.7 72.7L230.6 71.6L231.1 72.5L230.6 70.4L231.1 71.4L230.4 68.1L231.2 70.0L231.4 69.4L232.0 70.6L232.3 70.7L232.0 68.2L233.1 71.0L232.5 67.8L232.1 65.6L232.1 64.8L233.7 69.4L233.2 66.9L233.1 65.8L233.2 65.3L233.6 66.1L234.2 67.3L233.8 65.0L234.6 67.1L234.0 64.1L233.3 61.0L234.6 64.7L234.3 62.8L234.4 62.5L235.2 64.5L234.6 61.7L235.2 63.2L234.9 61.3L234.7 59.9L235.2 61.2L234.9 59.3L235.7 61.3L235.7 60.6L235.4 59.0L235.7 59.4L235.8 58.9L235.6 57.4L236.2 58.6L235.8 56.7L236.2 57.4L235.8 55.0L236.3 56.0L236.5 56.0L236.1 54.1L236.4 54.2L236.4 53.6L237.0 54.9L236.5 52.6L237.1 53.7L237.6 54.7L237.2 52.8L236.6 49.9L237.3 51.8L238.6 55.3L237.4 50.4L238.0 51.9L237.9 50.8L237.9 50.2L237.8 48.9L237.8 48.2L238.0 48.2L238.3 48.2L238.6 48.4L238.7 47.9L238.6 46.6L238.8 46.7L239.1 46.8L238.5 43.8L238.9 44.5L239.1 44.1L239.4 44.5L239.6 44.1L239.9 44.5L240.3 44.0L239.9 46.4L240.2 46.2L241.1 44.1L240.7 46.6L241.3 45.5L240.5 49.5L241.4 47.1L241.5 47.5L241.6 48.5L241.8 48.5L242.0 49.0L241.5 51.5L242.2 50.1L242.1 51.3L242.1 52.1L243.0 49.7L242.2 53.5L242.7 52.6L242.8 53.3L242.7 54.3L243.8 51.3L243.4 53.7L244.2 51.7L243.0 56.9L243.8 55.1L244.2 54.4L244.2 55.3L244.1 56.6L244.2 57.3L244.5 56.9L244.4 58.1L244.1 60.0L245.6 55.7L245.4 57.1L245.8 56.8L245.5 58.6L244.7 62.3L245.6 60.0L246.4 58.2L246.2 59.6L245.9 61.7L246.6 60.0L246.6 60.9L246.6 61.8L247.4 59.5L246.8 63.1L247.3 62.7L247.6 63.2L248.3 61.4L248.4 61.9L248.4 61.8L249.4 64.6L248.9 61.9L249.1 61.6L249.8 63.4L249.8 62.4L249.2 59.4L249.3 59.1L250.3 61.8L249.7 58.8L250.5 60.6L250.7 60.5L250.0 57.4L250.3 57.4L250.5 57.4L250.3 55.8L250.4 55.3L250.8 55.7L251.4 56.9L251.0 54.9L251.3 54.8L251.3 54.1L251.1 52.6L252.3 55.9L251.1 50.5L251.9 52.4L252.4 53.6L251.9 50.7L252.8 52.9L253.2 53.4L252.6 50.3L253.2 51.3L252.9 49.3L253.6 51.0L253.6 50.1L253.9 49.9L254.4 51.0L254.3 49.5L254.8 50.3L254.7 49.0L254.2 46.2L254.9 47.8L255.2 47.8L255.1 45.0L256.0 48.4L256.1 46.6L256.9 49.3L256.1 42.4L257.0 45.9L257.3 46.1L257.7 45.5L257.9 46.3L258.8 43.7L258.2 48.5L259.2 45.5L259.7 44.4L259.8 46.2L260.0 46.7L259.6 49.7L260.5 47.2L260.4 49.1L261.0 47.8L260.2 52.3L260.9 50.5L260.7 52.6L261.9 49.1L261.6 51.6L262.3 49.8L262.0 52.2L262.2 52.6L263.7 47.8L263.3 50.9L263.8 50.1L263.8 51.2L263.7 52.5L263.9 52.6L264.3 52.3L263.9 54.7L263.9 55.6L264.8 53.6L264.7 54.9L264.7 56.0L264.9 56.0L265.3 55.8L264.9 58.1L265.1 58.5L265.3 58.7L265.8 57.9L265.2 61.1L264.9 63.4L266.5 58.7L266.6 59.3L266.4 61.4L267.3 59.1L267.1 61.0L267.4 60.9L267.9 60.3L268.0 61.2L268.6 59.8L268.5 61.5L269.2 59.9L268.0 65.8L268.5 65.1L268.9 65.1L269.5 64.1L269.7 65.2L270.0 65.8L270.3 65.7L270.7 65.7L271.4 63.6L271.5 65.5L271.6 67.0L272.2 66.0L272.8 64.1L272.9 66.3L273.1 67.4L273.9 64.0L273.8 68.6L274.2 68.4L274.8 66.1L275.2 66.2L275.5 66.8L275.8 67.6L276.3 66.8L276.8 66.0L276.9 68.0L277.1 65.0L277.6 67.5L278.2 68.5L278.2 67.1L278.6 67.4L278.7 66.7L279.0 66.7L279.1 65.6L279.0 64.1L279.5 64.5L279.8 64.4L280.4 65.8L280.8 66.0L280.7 64.1L280.6 62.3L280.9 62.1L281.3 62.5L282.1 64.2L282.1 62.6L282.1 60.9L282.3 60.6L283.1 62.5L283.2 61.4L283.4 60.8L283.5 61.3L283.1 63.7L283.9 61.7L283.4 64.5L283.7 64.3L284.3 63.1L283.7 66.1L284.6 63.6L285.0 63.1L285.0 64.2L285.4 63.7L285.0 65.9L285.3 65.7L285.3 66.7L285.3 67.4L286.9 62.8L285.8 67.5L286.7 65.2L286.2 68.1L286.7 67.1L286.6 68.7L286.4 70.6L287.6 67.0L287.2 69.8L286.9 72.5L288.3 67.8L287.7 71.4L288.2 71.0L288.5 70.6L288.8 70.7L287.8 76.0L289.1 71.8L289.8 70.3L289.7 71.8L289.0 75.7L290.0 73.1L289.6 75.7L290.7 72.7L290.3 75.3L290.8 74.4L290.6 76.6L291.4 74.7L291.4 75.5L291.3 77.4L290.8 80.2L292.0 76.6L292.1 77.4L292.3 78.0L291.9 80.6L293.0 77.6L292.9 79.3L293.0 80.0L293.7 78.2L293.6 80.0L293.8 80.3L294.2 79.8L294.2 81.5L294.8 82.0L295.1 81.7L294.8 79.7L295.1 79.9L296.0 82.2L295.0 77.5L295.6 78.8L296.0 79.3L296.0 78.0L296.3 78.3L296.3 77.3L296.7 77.7L297.1 78.3L296.8 75.8L297.1 75.9L297.2 75.3L297.2 74.5L297.6 74.7L298.5 71.6L298.1 76.1L298.2 77.6L298.5 77.8L299.0 77.5L299.8 74.9L299.6 78.2L300.4 75.7L300.6 76.7L300.3 79.4L301.4 76.1L301.0 78.8L301.4 78.4L301.8 78.2L302.3 77.6L302.1 79.5L302.6 78.7L302.4 80.9L302.6 81.5L303.6 78.6L303.6 80.0L303.8 80.5L304.3 79.8L304.4 80.3L304.1 82.1L305.0 80.1L305.1 80.7L304.8 82.5L304.6 84.1L305.4 82.4L305.4 83.1L304.7 86.5L305.0 86.6L306.1 83.3L306.2 84.0L305.8 86.5L305.9 86.9L306.3 86.5L305.9 88.8L306.4 88.2L307.6 84.8L307.6 85.6L307.4 87.1L306.9 90.2L307.4 89.2L308.1 87.7L307.5 90.7L307.6 91.3L308.1 90.5L308.3 90.8L308.2 92.1L308.1 93.4L308.6 92.5L308.6 93.3L309.0 93.0L309.3 92.9L309.6 92.7L309.4 94.4L309.7 94.1L309.9 94.6L309.6 96.3L309.9 96.2L310.0 97.0L310.9 94.4L310.4 97.3L310.9 96.3L310.9 96.4L310.9 96.0L311.7 98.1L311.8 97.4L311.5 95.2L311.6 94.3L312.2 95.4L312.2 94.5L313.1 96.6L312.3 92.6L312.4 91.8L313.1 93.3L313.4 93.3L313.6 93.1L314.0 93.5L314.7 94.8L313.9 90.6L314.2 90.9L314.1 89.1L314.9 91.2L315.3 91.6L315.1 89.9L315.8 91.3L315.6 89.5L316.3 91.0L316.1 89.2L315.8 87.2L316.2 87.3L316.1 85.9L316.2 85.3L317.0 87.4L317.4 87.7L318.0 88.7L317.5 85.9L317.7 85.4L317.6 83.9L318.7 87.2L318.4 85.0L318.1 83.4L318.7 84.6L318.7 84.1L318.0 80.7L319.0 83.5L318.9 82.4L318.8 81.4L318.9 80.9L319.7 83.2L318.9 83.0L318.9 83.7L320.1 80.4L320.1 81.3L319.8 83.6L320.7 81.3L320.8 82.3L321.3 81.3L320.4 86.1L320.8 85.5L321.2 85.1L321.5 85.1L321.9 84.7L322.1 85.1L322.0 86.6L323.0 83.4L322.5 87.9L323.2 86.0L323.6 85.8L323.5 88.6L324.1 87.1L324.3 88.2L324.9 87.2L325.6 85.2L325.3 88.8L326.0 86.9L325.3 90.3L326.3 87.5L326.5 87.5L325.8 90.5L325.9 91.0L326.0 91.3L326.7 89.8L326.1 92.7L327.0 90.3L326.7 91.9L327.2 91.0L326.9 92.7L326.6 94.6L327.2 93.2L326.9 95.0L327.0 95.6L327.9 93.1L327.8 94.1L327.8 94.9L327.8 95.6L327.6 97.0L328.5 94.8L327.7 98.3L327.8 98.7L328.2 98.0L328.7 97.0L328.4 99.0L328.6 98.9L328.8 99.9L328.7 98.8L329.1 99.4L328.9 97.6L329.7 99.5L328.6 94.7L329.2 95.8L329.8 97.3L329.3 94.5L330.2 96.8L329.7 94.1L330.3 95.3L330.1 93.7L330.5 93.9L330.8 94.3L330.9 93.6L330.9 92.9L331.9 95.6L331.4 92.6L331.7 91.2L331.2 93.9L331.3 94.1L331.2 95.0L331.0 96.1L332.1 93.2L331.4 96.0L331.4 96.5L331.8 95.5L331.8 96.2L333.0 92.8L332.2 96.1L331.4 99.2L332.7 95.4L332.3 97.3L332.0 98.7L332.0 99.4L331.7 101.0L332.9 97.4L332.3 100.0L332.1 101.3L332.9 99.2L332.5 101.1L332.2 102.3L332.1 103.4L332.4 102.9L332.1 99.5L332.8 102.0L333.1 102.2L333.0 101.0L333.3 101.0L334.4 104.3L333.7 100.7L333.4 98.8L334.0 99.9L334.0 98.8L334.1 98.5L334.4 98.4L334.8 99.0L335.2 99.5L334.5 95.9L335.0 96.8L335.3 97.2L335.2 95.7L335.9 97.3L335.9 96.4L335.5 94.0L336.0 95.2L336.7 96.8L336.7 95.9L336.3 93.6L336.8 94.4L336.2 91.5L336.3 90.8L337.1 92.8L337.1 92.1L337.4 92.0L337.3 91.0L337.6 91.0L337.4 89.7L337.9 90.5L338.2 90.5L338.0 89.1L338.4 89.8L337.7 86.3L338.2 87.1L339.1 89.4L339.3 89.4L338.9 87.2L338.9 86.4L338.5 84.6L339.9 88.5L339.4 86.3L338.5 82.8L339.4 85.2L339.5 84.7L340.2 86.6L339.0 82.0L339.7 83.6L339.0 80.7L340.1 84.0L339.7 81.9L339.3 79.9L340.3 82.6L340.3 82.0L340.3 81.4L340.8 82.5L339.7 78.2L340.2 79.4L340.6 80.1L339.4 75.4L340.7 79.1L340.3 77.3L340.3 76.5L340.1 75.3L340.7 76.7L340.2 74.5L340.3 74.2L340.6 74.5L341.1 73.2L340.3 77.1L341.4 73.9L341.3 75.0L341.2 75.9L341.1 76.7L340.9 78.1L340.9 78.5L341.4 77.5L341.5 77.8L341.4 78.7L340.8 81.3L341.2 80.4L341.7 79.3L342.4 77.7L340.9 83.3L341.4 82.3L341.3 82.9L341.7 82.3L342.1 81.6L342.3 81.4L342.1 82.6L342.1 83.2L342.8 81.7L342.7 82.5L342.4 84.3L342.1 85.7L342.5 84.8L342.4 85.9L343.2 83.7L342.6 86.4L342.6 86.9L343.1 85.9L342.7 87.7L342.6 88.7L343.1 87.6L342.7 89.6L343.1 88.9L342.8 90.5L343.2 89.8L343.7 88.8L343.3 90.9L343.5 91.0L343.2 92.6L343.8 91.1L343.7 92.1L343.4 93.9L343.3 94.7L342.9 96.7L343.5 95.3L343.8 95.0L343.8 95.8L343.8 96.3L344.1 96.1L344.3 96.1L344.3 96.6L343.6 99.7L344.5 97.2L344.7 97.3L344.8 97.6L344.8 98.4L344.7 99.4L344.6 100.4L345.7 97.2L345.0 100.3L345.8 98.5L345.2 101.0L345.4 101.3L345.1 102.9L345.1 103.8L345.6 102.7L346.0 102.0L346.3 101.7L346.3 102.5L346.1 103.9L347.0 101.8L346.3 104.7L346.8 103.9L346.4 106.1L346.8 105.4L346.7 106.3L347.1 105.7L347.1 106.4L347.7 105.2L347.3 107.7L347.1 109.7L347.7 108.5L347.8 109.1L348.4 107.9L347.9 111.0L348.8 108.8L348.5 111.0L349.0 110.5L349.5 109.4L349.6 111.9L350.1 110.9L350.7 108.9L350.7 111.7L351.2 111.4L351.5 111.0L352.0 111.8L352.2 110.6L352.6 111.0L352.9 110.0L353.1 108.9L353.7 110.4L353.9 109.6L354.2 109.8L354.8 110.8L354.2 107.2L355.7 112.0L354.5 106.0L355.0 107.0L355.4 107.2L355.1 104.9L355.4 105.0L356.2 107.0L356.4 106.6L356.8 106.2L357.1 105.3L357.8 108.6L357.9 105.8L358.2 104.9L358.6 104.9L359.1 106.4L359.4 105.1L360.0 106.8L360.2 105.5L360.3 106.3L360.7 106.2L361.3 105.0L361.7 104.9L361.6 106.9L362.2 105.9L362.4 106.4L362.2 108.7L362.8 107.5L362.9 108.3L362.9 109.4L363.2 109.1L363.9 107.6L363.4 110.4L363.5 111.1L363.7 111.4L363.7 112.6L364.2 111.5L364.3 112.3L364.2 113.6L365.0 111.8L364.5 114.5L364.7 114.9L365.0 114.2L364.8 115.8L365.2 115.0L365.0 116.1L365.2 116.2L365.6 115.6L365.6 116.1L365.8 116.0L365.4 118.0L365.8 117.5L366.3 116.4L365.9 118.2L365.9 118.8L366.5 117.6L366.5 118.3L366.3 120.0L366.7 118.3L367.2 119.2L367.8 121.0L368.1 120.6L368.4 119.6L368.7 119.2L369.0 119.2L369.2 119.4L369.7 117.6L369.8 119.0L370.3 118.8L370.7 118.4L371.1 118.3L371.3 119.6L371.8 118.8L371.9 117.7L372.8 121.2L372.7 118.5L373.0 118.4L373.4 118.5L373.8 118.6L373.8 116.9L374.3 117.2L374.4 115.3L374.8 114.5L375.2 114.7L375.9 118.5L376.0 114.6L376.5 117.1L376.5 118.3L377.1 116.5L376.7 119.2L376.9 119.8L377.3 119.1L377.1 121.1L377.8 119.4L378.4 118.3L378.3 120.0L378.8 119.3L379.2 118.7L379.4 119.1L378.6 123.4L379.6 120.6L379.6 121.5L380.0 121.1L379.4 124.7L380.3 122.3L380.6 122.5L381.0 121.9L381.3 122.0L381.3 123.1L381.2 124.6L380.9 126.9L381.4 126.1L381.4 127.3L382.0 126.2L382.4 125.9L382.9 124.9L382.8 126.7L383.6 124.6L383.3 127.0L383.0 129.4L383.6 128.3L383.6 129.5L384.2 128.2L384.7 127.5L384.5 128.9L384.6 129.3L384.3 131.5L384.2 132.7L385.1 130.1L385.1 130.9L385.2 131.5L385.4 131.7L385.8 131.1L385.5 132.9L385.6 133.6L385.8 133.9L386.4 132.6L386.3 134.1L386.9 132.8L386.3 135.9L387.1 134.2L387.0 135.4L387.2 135.6L387.5 135.8L387.8 135.6L388.1 135.2L388.1 136.9L388.2 137.9L387.9 141.0L388.3 140.5L389.1 138.4L389.2 139.4L389.6 139.1L389.7 140.6L390.1 140.2L390.5 140.2L390.9 139.8L391.2 140.5L391.5 141.6L392.3 138.3L392.4 140.5L392.8 140.4L393.2 140.6L393.7 139.0L393.8 142.0L394.3 140.6L394.6 141.4L395.3 139.2L395.5 140.2L395.7 141.6L396.3 140.4L396.6 141.5L396.8 142.4L396.9 143.0L397.2 143.4L397.4 143.5L397.1 146.2L397.8 144.8L398.4 143.4L398.5 144.3L398.7 144.6L398.8 145.5L399.1 145.4L399.3 145.5L398.8 148.4L399.5 147.1L399.8 147.1L399.9 147.5L400.1 147.9L399.8 149.9L400.3 149.3L400.3 150.3L401.5 146.4L401.0 150.1L401.1 151.2L401.2 152.4L401.9 150.7L402.6 149.2L402.4 151.8L402.9 150.9L402.9 152.6L403.5 151.5L403.5 153.4L403.8 153.7L404.2 153.5L404.8 151.9L404.6 155.7L405.5 152.2L405.7 153.6L406.2 152.5L406.0 155.5L406.5 154.9L406.7 155.6L407.2 155.0L407.5 155.1L407.5 155.7L408.2 154.1L407.5 157.3L407.6 157.6L408.1 156.7L408.1 157.5L408.1 158.2L407.9 159.8L408.3 159.1L408.5 159.1L408.8 158.9L409.1 158.6L409.0 159.6L409.0 160.6L409.3 160.7L409.4 161.3L409.4 162.4L409.7 162.4L409.9 162.6L410.0 163.3L410.4 163.2L410.6 163.3L410.7 164.1L411.8 161.0L410.9 165.6L411.7 163.4L411.5 165.8L412.0 165.3L412.1 166.6L412.0 168.5L413.0 165.2L412.9 167.4L413.4 166.9L413.7 167.1L414.0 167.3L414.1 168.5L414.4 168.6L414.9 168.2L415.5 166.8L415.6 168.1L415.8 168.8L415.9 170.7L416.4 169.6L416.7 170.5L417.3 170.6L417.5 169.1L417.9 169.0L418.3 169.3L418.3 167.2L419.0 169.3L419.3 168.6L419.5 167.7L419.8 166.7L420.2 167.9L420.5 169.2L421.1 167.4L421.5 167.2L421.6 169.1L422.3 167.0L422.7 166.5L422.9 168.4L423.3 168.3L423.6 168.9L424.0 168.8L424.2 169.8L424.7 169.5L425.1 169.3L425.4 169.6L425.6 170.8L425.8 171.4L426.0 171.7L426.3 171.8L427.4 168.3L427.1 170.8L427.2 171.8L427.3 172.6L427.9 171.2L427.5 175.1L428.1 173.6L428.6 173.0L428.7 174.0L429.1 173.8L429.5 173.7L429.5 175.2L430.0 174.6L430.5 173.9L430.5 175.0L430.6 175.9L431.1 175.3L430.7 177.8L431.5 176.0L431.0 179.0L431.4 178.5L432.0 177.2L432.0 178.5L432.0 179.8L432.6 178.8L433.0 178.2L433.0 179.7L433.4 179.2L433.8 178.9L433.9 180.1L434.0 180.9L434.3 181.1L434.0 183.7L434.8 181.5L434.7 183.1L435.1 183.0L435.6 181.9L435.3 184.6L436.1 182.3L435.9 184.4L436.2 184.3L435.5 188.4L436.7 185.1L436.7 186.1L437.1 185.5L437.0 186.8L437.3 186.6L437.0 188.6L437.9 186.4L437.5 188.5L437.9 188.2L438.7 186.0L438.4 188.0L438.3 189.3L438.9 187.9L439.0 188.4L438.7 190.6L439.4 189.0L438.9 192.0L439.5 190.8L439.6 191.6L440.5 189.0L440.0 192.4" stroke="#000" stroke-width="2.2" fill="none" stroke-linejoin="round"/>
<g stroke="#333" stroke-width="2" fill="none">
<line x1="53.8" y1="16" x2="53.8" y2="362"/>
<line x1="53" y1="357.5" x2="519.5" y2="357.5"/>
<line x1="86.5" y1="357" x2="86.5" y2="366.5"/>
<line x1="152.2" y1="357" x2="152.2" y2="366.5"/>
<line x1="217.8" y1="357" x2="217.8" y2="366.5"/>
<line x1="283.5" y1="357" x2="283.5" y2="366.5"/>
<line x1="349.2" y1="357" x2="349.2" y2="366.5"/>
<line x1="414.8" y1="357" x2="414.8" y2="366.5"/>
<line x1="480.5" y1="357" x2="480.5" y2="366.5"/>
<line x1="119.3" y1="357" x2="119.3" y2="362"/>
<line x1="185.0" y1="357" x2="185.0" y2="362"/>
<line x1="250.7" y1="357" x2="250.7" y2="362"/>
<line x1="316.3" y1="357" x2="316.3" y2="362"/>
<line x1="382.0" y1="357" x2="382.0" y2="362"/>
<line x1="447.7" y1="357" x2="447.7" y2="362"/>
<line x1="513.3" y1="357" x2="513.3" y2="362"/>
</g>
<g font-family="'Liberation Sans', sans-serif" font-size="17" fill="#3a3540" stroke="#3a3540" stroke-width="0.45" letter-spacing="0.8" text-anchor="middle">
<text x="85.5" y="387.8">500</text>
<text x="151.2" y="387.8">1000</text>
<text x="216.8" y="387.8">1500</text>
<text x="282.5" y="387.8">2000</text>
<text x="348.2" y="387.8">2500</text>
<text x="413.8" y="387.8">3000</text>
<text x="479.5" y="387.8">3500</text>
</g>
<g stroke-width="2" fill="none">
<line x1="354" y1="23" x2="394.5" y2="23" stroke="#333"/>
<line x1="354" y1="44.8" x2="394.5" y2="44.8" stroke="#e0304a"/>
<line x1="354" y1="67.9" x2="394.5" y2="67.9" stroke="#5040c0"/>
</g>
<g font-family="'Liberation Sans', sans-serif" font-size="17" fill="#2a2a30" stroke="#2a2a30" stroke-width="0.35" letter-spacing="0.5">
<text x="400.3" y="28.5">raw chitosan fiber</text>
<text x="400.5" y="50">CP</text>
<text x="400.5" y="73.3">CF</text>
</g>
<g font-family="'Liberation Sans', sans-serif" fill="#111">
<text x="200.2" y="424.2" font-size="20" letter-spacing="0.44">Wavenumber</text>
<text x="331.0" y="424.2" font-size="20" letter-spacing="0.9">(cm</text>
<text x="365.4" y="419.0" font-size="13">-</text>
<text x="371.2" y="418.2" font-size="11">1</text>
<text x="379.8" y="424.2" font-size="20">)</text>
</g>
<text transform="translate(27.4,275.2) rotate(-90)" x="0" y="0" font-family="'Liberation Sans', sans-serif" font-size="20" letter-spacing="0.6" fill="#111">Intensity (arb.u.)</text>
</svg>
</body></html>
